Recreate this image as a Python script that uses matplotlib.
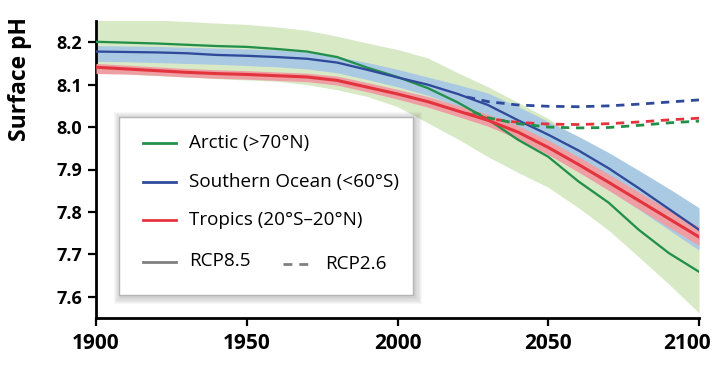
import matplotlib
matplotlib.use("Agg")
import matplotlib.pyplot as plt
import matplotlib.transforms as mtransforms
from matplotlib import font_manager
from matplotlib.patches import Rectangle
from matplotlib.lines import Line2D

# ---------------- data ----------------
years = [1900, 1910, 1920, 1930, 1940, 1950, 1960, 1970, 1980, 1990, 2000,
         2010, 2020, 2030, 2040, 2050, 2060, 2070, 2080, 2090, 2100]

arctic_85 = [8.201, 8.199, 8.197, 8.194, 8.191, 8.189, 8.184, 8.178, 8.165, 8.140, 8.118,
             8.092, 8.058, 8.018, 7.970, 7.930, 7.872, 7.822, 7.758, 7.703, 7.659]
arctic_lo = [8.130, 8.125, 8.121, 8.118, 8.114, 8.111, 8.108, 8.100, 8.088, 8.072, 8.048,
             8.010, 7.972, 7.930, 7.893, 7.858, 7.810, 7.757, 7.694, 7.630, 7.562]
arctic_hi = [8.257, 8.255, 8.252, 8.249, 8.245, 8.242, 8.236, 8.228, 8.214, 8.198, 8.183,
             8.163, 8.128, 8.095, 8.058, 8.020, 7.975, 7.935, 7.890, 7.845, 7.800]

south_85 = [8.178, 8.177, 8.176, 8.174, 8.170, 8.168, 8.165, 8.161, 8.152, 8.135, 8.117,
            8.100, 8.078, 8.052, 8.016, 7.982, 7.945, 7.903, 7.856, 7.807, 7.758]
south_lo = [8.155, 8.154, 8.152, 8.150, 8.148, 8.145, 8.142, 8.137, 8.128, 8.112, 8.095,
            8.075, 8.050, 8.020, 7.983, 7.945, 7.900, 7.852, 7.806, 7.758, 7.710]
south_hi = [8.192, 8.191, 8.190, 8.188, 8.186, 8.184, 8.182, 8.177, 8.166, 8.152, 8.136,
            8.118, 8.100, 8.080, 8.048, 8.013, 7.978, 7.940, 7.898, 7.855, 7.810]

trop_85 = [8.141, 8.137, 8.133, 8.129, 8.126, 8.124, 8.121, 8.118, 8.110, 8.094, 8.078,
           8.060, 8.038, 8.016, 7.988, 7.952, 7.912, 7.870, 7.827, 7.784, 7.741]
trop_lo = [8.126, 8.125, 8.122, 8.118, 8.115, 8.113, 8.110, 8.107, 8.099, 8.083, 8.066,
           8.047, 8.025, 8.002, 7.972, 7.935, 7.894, 7.851, 7.807, 7.764, 7.721]
trop_hi = [8.150, 8.146, 8.142, 8.138, 8.135, 8.133, 8.130, 8.127, 8.120, 8.105, 8.089,
           8.072, 8.051, 8.030, 8.003, 7.969, 7.930, 7.889, 7.847, 7.805, 7.765]

years_26_so = [2023, 2030, 2040, 2050, 2060, 2070, 2080, 2090, 2100]
south_26 = [8.071, 8.060, 8.052, 8.049, 8.048, 8.050, 8.054, 8.059, 8.064]
years_26_tr = [2023, 2030, 2040, 2050, 2060, 2070, 2080, 2090, 2100]
trop_26 = [8.032, 8.020, 8.011, 8.007, 8.006, 8.008, 8.012, 8.017, 8.021]
years_26_ar = [2025, 2030, 2040, 2050, 2060, 2070, 2080, 2090, 2100]
arctic_26 = [8.036, 8.022, 8.008, 8.000, 7.998, 7.999, 8.004, 8.010, 8.014]

xticks = [1900, 1950, 2000, 2050, 2100]
yticks = [7.6, 7.7, 7.8, 7.9, 8.0, 8.1, 8.2]
legend_labels = ["Arctic (>70°N)", "Southern Ocean (<60°S)", "Tropics (20°S–20°N)"]
scen_labels = ["RCP8.5", "RCP2.6"]

# ---------------- style ----------------
names = {f.name for f in font_manager.fontManager.ttflist}
narrow = "Liberation Sans Narrow" if "Liberation Sans Narrow" in names else "Open Sans"
plt.rcParams["font.family"] = [narrow, "DejaVu Sans"]

c_green, c_blue, c_red, c_gray = "#23904a", "#2f4a9a", "#e3343e", "#808080"
b_green, b_blue, b_red = "#d8e9c6", "#aac9e2", "#ee9fa3"

fig = plt.figure(figsize=(7.2, 3.72), dpi=100)
ax = fig.add_axes([96 / 720, 1 - 318 / 372, 603 / 720, 297 / 372])

ax.fill_between(years, arctic_lo, arctic_hi, color=b_green, lw=0, zorder=1)
ax.fill_between(years, south_lo, south_hi, color=b_blue, lw=0, zorder=2)
ax.fill_between(years, trop_lo, trop_hi, color=b_red, lw=0, zorder=3)

ax.plot(years, arctic_85, color=c_green, lw=1.65, zorder=5)
ax.plot(years, south_85, color=c_blue, lw=1.65, zorder=5)
ax.plot(years, trop_85, color=c_red, lw=2.2, zorder=5)

dash = (3.0, 2.4)
ax.plot(years_26_so, south_26, color=c_blue, lw=2.0, dashes=dash, zorder=6)
ax.plot(years_26_tr, trop_26, color=c_red, lw=2.0, dashes=dash, zorder=6)
ax.plot(years_26_ar, arctic_26, color=c_green, lw=2.0, dashes=dash, zorder=6)

ax.set_xlim(1900, 2100)
ax.set_ylim(7.55, 8.25)
ax.set_xticks(xticks)
ax.set_yticks(yticks)
ax.set_yticklabels([f"{v:.1f}" for v in yticks])
for s in ("top", "right"):
    ax.spines[s].set_visible(False)
for s in ("left", "bottom"):
    ax.spines[s].set_linewidth(2.0)
ax.tick_params(axis="both", direction="out", length=6, width=1.6, color="black")
ax.tick_params(axis="x", labelsize=15, pad=5)
ax.tick_params(axis="y", labelsize=13, pad=4)
for lab in ax.get_xticklabels() + ax.get_yticklabels():
    lab.set_fontweight("bold")
# last x label sits shifted left, as in the reference
last = ax.get_xticklabels()[-1]
last.set_transform(last.get_transform() +
                   mtransforms.ScaledTranslation(-12.5 / 100, 0, fig.dpi_scale_trans))

fig.text(20 / 720, 1 - 79 / 372, "Surface pH", rotation=90, ha="center", va="center",
         fontsize=16.5, fontweight="bold")

# ---------------- legend (manual) ----------------
def px(x):
    return (x - 96) / 603

def py(y):
    return (318 - y) / 297

L, R, T, B = px(119), px(413), py(117), py(295)
for k in range(6, 0, -1):
    d = k * 1.2
    ax.add_patch(Rectangle((L + (2 - d) / 603, B - (2 + d) / 297),
                           (R - L) + 2 * d / 603, (T - B) + 2 * d / 297,
                           transform=ax.transAxes, facecolor="black", alpha=0.03,
                           lw=0, zorder=8, clip_on=False))
ax.add_patch(Rectangle((L, B), R - L, T - B, transform=ax.transAxes,
                       facecolor="white", edgecolor="#b5b5b5", lw=1.0, zorder=9,
                       clip_on=False))

rows = [143, 182, 220]
for lab, col, yy in zip(legend_labels, [c_green, c_blue, c_red], rows):
    ax.add_line(Line2D([px(143), px(176)], [py(yy), py(yy)], transform=ax.transAxes,
                       color=col, lw=2.0, zorder=10))
    ax.text(px(189), py(yy), lab, transform=ax.transAxes, fontsize=13.6,
            va="center", ha="left", zorder=10)
ax.add_line(Line2D([px(143), px(176)], [py(262), py(262)], transform=ax.transAxes,
                   color=c_gray, lw=2.0, zorder=10))
ax.text(px(189), py(261), scen_labels[0], transform=ax.transAxes, fontsize=13.6,
        va="center", ha="left", zorder=10)
ax.add_line(Line2D([px(283), px(308.5)], [py(264), py(264)], transform=ax.transAxes,
                   color=c_gray, lw=2.0, dashes=(3.2, 2.5), zorder=10))
ax.text(px(325), py(264), scen_labels[1], transform=ax.transAxes, fontsize=13.6,
        va="center", ha="left", zorder=10)

fig.savefig("out.png", dpi=100)
